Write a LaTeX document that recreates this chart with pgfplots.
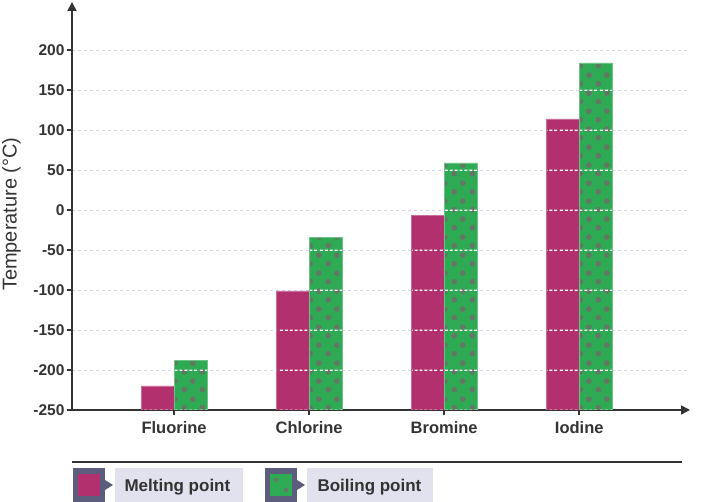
\documentclass[border=0pt]{standalone}
\usepackage{pgfplots}
\pgfplotsset{compat=1.18}
\usepackage{fontspec}
\setmainfont{Liberation Sans}
\usetikzlibrary{patterns.meta, arrows.meta}

\definecolor{melt}{RGB}{178,48,110}
\definecolor{boil}{RGB}{46,170,84}
\definecolor{dotc}{RGB}{100,118,100}
\definecolor{gridc}{RGB}{212,212,234}
\definecolor{axc}{RGB}{51,51,51}
\definecolor{legbox}{RGB}{92,92,124}
\definecolor{leglab}{RGB}{226,226,238}

\tikzdeclarepattern{
  name=bigdots,
  type=uncolored,
  bottom left={(0pt,0pt)},
  top right={(18pt,18pt)},
  tile size={(18pt,18pt)},
  code={
    \fill (4.5pt,4.5pt) circle (3pt);
    \fill (13.5pt,13.5pt) circle (3pt);
  }
}
\tikzdeclarepattern{
  name=whitedash,
  type=uncolored,
  bottom left={(0pt,0pt)},
  top right={(40pt,40pt)},
  tile size={(40pt,40pt)},
  code={
    \draw[line width=1.2pt, dash pattern=on 3pt off 2pt] (0pt,12pt) -- (40pt,12pt);
  }
}

\begin{document}
\begin{tikzpicture}
\path[use as bounding box] (0,0) rectangle (711pt,502pt);
\begin{axis}[
  at={(72pt,92pt)}, anchor=south west,
  scale only axis, width=618pt, height=408pt,
  xmin=-0.756, xmax=3.82,
  ymin=0, ymax=510,
  y filter/.expression={y+250},
  axis lines=left,
  axis line style={axc, line width=1.6pt, -{Triangle[length=9pt,width=9pt]}},
  ytick={0,50,...,450},
  yticklabels={-250,-200,-150,-100,-50,0,50,100,150,200},
  xtick={0,1,2,3},
  xticklabels={Fluorine,Chlorine,Bromine,Iodine},
  tick align=outside,
  major tick length=5pt,
  tick style={axc, line width=2pt},
  yticklabel style={font=\bfseries\fontsize{15.5}{15.5}\selectfont, text=axc, xshift=1pt},
  xticklabel style={font=\bfseries\fontsize{16.5}{16.5}\selectfont, text=axc, yshift=-3pt},
  ymajorgrids,
  major grid style={gridc, line width=0.8pt, dash pattern=on 3pt off 3pt},
  ylabel={Temperature (°C)},
  every axis y label/.style={at={(axis description cs:-0.098,0.48)}, rotate=90, anchor=center,
    font=\fontsize{20}{20}\selectfont, text=axc},
  ybar=0pt, bar width=33pt,
]
\addplot[fill=melt, draw=melt!70!white, line width=0.4pt,
  postaction={pattern=whitedash, pattern color=white}]
  coordinates {(0,-220) (1,-101) (2,-7) (3,114)};
\addplot[fill=boil, draw=boil!70!white, line width=0.4pt,
  postaction={pattern=bigdots, pattern color=dotc},
  postaction={pattern=whitedash, pattern color=white}]
  coordinates {(0,-188) (1,-34) (2,59) (3,184)};
\end{axis}
% legend
\draw[axc, line width=2pt] (72pt,40pt) -- (682pt,40pt);
\fill[legbox] (73pt,0pt) rectangle (105pt,34pt);
\fill[melt] (78pt,6pt) rectangle (100pt,28pt);
\fill[legbox] (105pt,12pt) -- (113pt,17pt) -- (105pt,22pt) -- cycle;
\fill[leglab] (115pt,0pt) rectangle (243pt,34pt);
\node[anchor=west, font=\bfseries\fontsize{17}{17}\selectfont, text=axc] at (121pt,15pt) {Melting point};
\fill[legbox] (265pt,0pt) rectangle (297pt,34pt);
\fill[boil] (270pt,6pt) rectangle (292pt,28pt);
\fill[dotc] (276pt,22pt) circle (2.2pt);
\fill[dotc] (286pt,12pt) circle (2.2pt);
\fill[legbox] (297pt,12pt) -- (305pt,17pt) -- (297pt,22pt) -- cycle;
\fill[leglab] (307pt,0pt) rectangle (433pt,34pt);
\node[anchor=west, font=\bfseries\fontsize{17}{17}\selectfont, text=axc] at (314pt,15pt) {Boiling point};
\end{tikzpicture}
\end{document}
